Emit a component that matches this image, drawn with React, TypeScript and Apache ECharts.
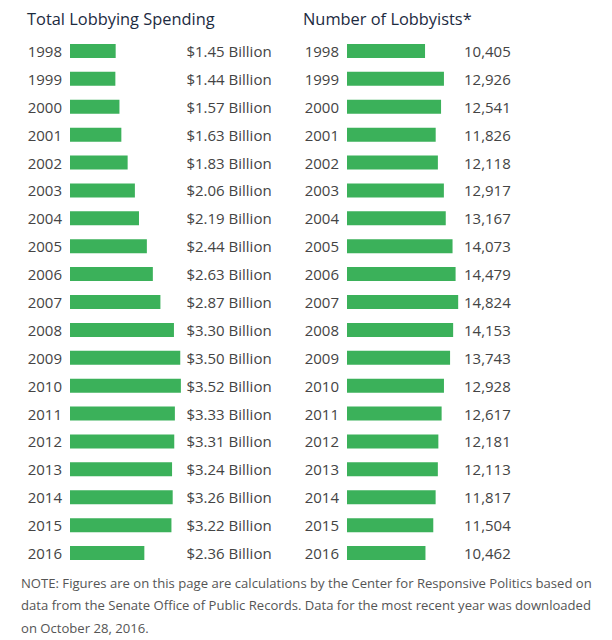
import React, { useEffect, useRef } from "react";
import * as echarts from "echarts";

const years = ["1998","1999","2000","2001","2002","2003","2004","2005","2006","2007","2008","2009","2010","2011","2012","2013","2014","2015","2016"];
const spending = [1.45,1.44,1.57,1.63,1.83,2.06,2.19,2.44,2.63,2.87,3.30,3.50,3.52,3.33,3.31,3.24,3.26,3.22,2.36];
const lobbyists = [10405,12926,12541,11826,12118,12917,13167,14073,14479,14824,14153,13743,12928,12617,12181,12113,11817,11504,10462];
const leftTitle = "Total Lobbying Spending";
const rightTitle = "Number of Lobbyists*";
const noteLines = [
  "NOTE: Figures are on this page are calculations by the Center for Responsive Politics based on",
  "data from the Senate Office of Public Records. Data for the most recent year was downloaded",
  "on October 28, 2016.",
];

const GREEN = "#3bb15a";
const FONT = "Open Sans";
const LABEL = "#444";

export default function App() {
  const ref = useRef<HTMLDivElement>(null);
  useEffect(() => {
    if (!ref.current) return;
    const chart = echarts.init(ref.current, null, { renderer: "svg" });
    const fmtMoney = (v: number) => "$" + v.toFixed(2) + " Billion";
    const fmtNum = (v: number) => v.toLocaleString("en-US");
    const top = 37;
    const height = 530;
    const catAxis = (gridIndex: number, position: "left" | "right", labels: string[], margin: number) => ({
      type: "category",
      gridIndex,
      position,
      inverse: true,
      data: labels,
      axisLine: { show: false },
      axisTick: { show: false },
      axisLabel: {
        margin,
        color: LABEL,
        fontFamily: FONT,
        fontSize: 15,
        align: position === "right" ? "left" : "right",
      },
    });
    chart.setOption({
      animation: false,
      grid: [
        { left: 70, top, width: 113.4, height },
        { left: 347, top, width: 112.5, height },
      ],
      xAxis: [
        { type: "value", gridIndex: 0, min: 0, max: 3.6, show: false },
        { type: "value", gridIndex: 1, min: 0, max: 15000, show: false },
      ],
      yAxis: [
        catAxis(0, "left", years, 8),
        catAxis(0, "right", spending.map(fmtMoney), 3),
        catAxis(1, "left", years, 8),
        catAxis(1, "right", lobbyists.map(fmtNum), 4.5),
      ],
      series: [
        { type: "bar", xAxisIndex: 0, yAxisIndex: 0, data: spending, barWidth: 14, itemStyle: { color: GREEN } },
        { type: "bar", xAxisIndex: 1, yAxisIndex: 2, data: lobbyists, barWidth: 14, itemStyle: { color: GREEN } },
      ],
      graphic: [
        { type: "text", left: 27, top: 10, style: { text: leftTitle, fontFamily: FONT, fontSize: 16.4, fill: "#1c2b3f" } },
        { type: "text", left: 303, top: 10, style: { text: rightTitle, fontFamily: FONT, fontSize: 16.4, fill: "#1c2b3f" } },
        ...noteLines.map((t, i) => ({
          type: "text",
          left: 21,
          top: 576 + i * 22.7,
          style: { text: t, fontFamily: FONT, fontSize: 13.1, fill: "#555" },
        })),
      ],
    });
    return () => chart.dispose();
  }, []);
  return <div ref={ref} style={{ position: "fixed", left: 0, top: 0, width: 612, height: 640, background: "#fff" }} />;
}
